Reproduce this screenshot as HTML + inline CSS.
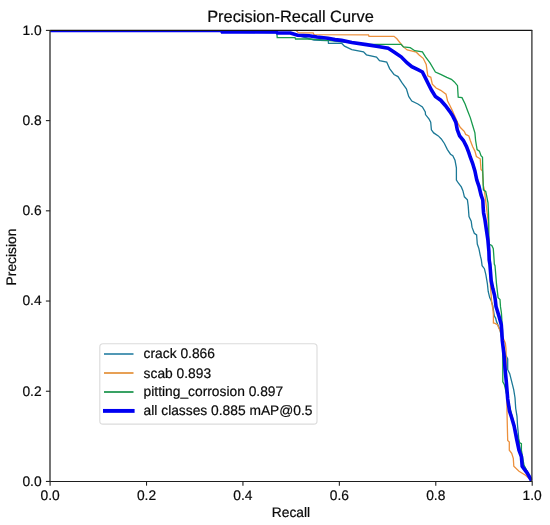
<!DOCTYPE html>
<html><head><meta charset="utf-8"><style>
html,body{margin:0;padding:0;background:#fff;width:550px;height:525px;overflow:hidden}
svg{display:block;position:absolute;left:0;top:0}
text{text-rendering:geometricPrecision;font-family:"Liberation Sans",Arial,sans-serif;fill:#0a0a0a;stroke:#0a0a0a;stroke-width:0.2px}
.tl{font-size:13.8px}
.ax{stroke:#222;stroke-width:1.1}
.c{fill:none;stroke-linejoin:miter;stroke-linecap:butt}
</style></head><body>
<svg width="550" height="525" viewBox="0 0 550 525">
<rect x="0" y="0" width="550" height="525" fill="#fff"/>
<text x="290.5" y="22.2" font-size="16.4" text-anchor="middle">Precision-Recall Curve</text>
<defs><clipPath id="ax"><rect x="50.1" y="30.4" width="482.1" height="451.05"/></clipPath></defs>
<g clip-path="url(#ax)">
<polyline class="c" points="40.0,30.4 220.0,30.4 222.0,32.0 290.0,33.0 296.0,35.0 305.0,37.5 314.0,40.0 326.0,40.6 328.2,40.6 328.5,43.4 341.6,43.2 344.5,46.1 351.8,49.7 363.5,51.9 366.4,54.8 376.5,57.0 379.5,60.6 386.7,62.1 389.6,68.6 394.0,74.5 398.0,76.6 401.9,82.7 406.4,88.8 408.7,96.4 411.8,101.0 417.9,104.0 422.4,107.0 425.3,112.0 425.5,114.6 429.1,119.1 430.7,122.2 431.4,129.8 433.7,132.9 438.3,135.9 441.3,139.0 444.4,143.5 447.4,149.6 450.5,154.2 452.8,155.7 455.0,160.3 456.4,167.9 456.4,180.0 458.3,183.0 461.3,186.9 462.9,190.7 464.4,196.8 467.4,199.8 468.2,205.9 469.0,216.6 471.2,221.1 472.0,227.2 474.3,233.3 476.6,234.9 477.3,244.0 478.9,248.6 480.4,256.2 481.3,259.6 482.1,265.7 484.4,268.7 485.9,274.8 487.4,283.9 488.2,291.5 489.7,297.6 491.2,300.7 492.7,305.3 494.3,315.9 495.7,318.3 496.3,321.1 500.0,330.0 503.0,345.0 505.7,355.0 507.7,359.0 507.7,369.7 509.7,373.7 511.7,381.7 513.7,389.7 515.0,397.7 515.7,408.3 517.0,416.3 517.5,425.0 518.2,432.4 519.0,442.1 521.0,455.0 523.0,464.7 527.1,471.2 531.5,480.5" stroke="#1b7896" stroke-width="1.3"/>
<polyline class="c" points="40.0,30.4 296.0,30.4 298.6,32.9 313.2,32.9 314.0,34.7 368.5,34.9 369.0,36.3 394.0,36.3 396.9,38.8 399.8,42.5 403.4,46.9 407.2,49.9 416.3,52.2 419.4,55.2 423.2,58.3 426.2,64.4 427.8,75.8 430.8,77.3 432.3,84.2 436.1,88.0 440.7,90.3 446.0,94.1 447.6,101.0 449.9,105.5 452.1,110.1 458.1,123.7 460.4,127.5 464.2,131.3 465.7,134.4 468.8,135.9 470.3,140.5 472.6,146.6 474.9,151.1 476.4,156.5 480.2,158.8 481.0,169.4 482.5,171.0 483.2,185.0 484.2,189.1 485.0,195.2 487.2,213.5 488.0,219.6 489.5,260.0 490.5,287.0 491.7,302.3 492.9,309.1 493.4,314.9 493.4,322.9 495.1,323.4 497.4,324.6 498.6,327.4 502.0,335.0 505.4,343.4 506.0,349.1 506.5,380.0 507.0,412.3 507.7,440.5 509.3,442.1 509.3,450.2 511.7,453.4 513.3,458.3 513.8,466.3 519.0,471.2 525.5,475.2 531.5,480.5" stroke="#ec903c" stroke-width="1.3"/>
<polyline class="c" points="40.0,30.4 221.0,30.4 222.0,32.0 276.8,32.0 277.2,37.6 295.0,37.6 295.5,39.0 307.3,39.0 320.0,39.6 350.0,42.6 368.0,44.3 401.1,44.3 403.4,46.9 410.2,47.6 414.8,50.7 422.4,51.9 425.5,56.8 430.0,62.9 435.4,72.0 440.7,74.3 446.8,77.3 451.4,79.3 454.4,81.9 457.5,85.7 458.2,97.1 462.0,97.6 465.1,104.0 467.5,110.5 470.3,117.6 472.6,125.2 474.9,132.9 475.6,140.5 477.1,149.6 479.4,151.1 481.0,155.7 482.5,157.2 482.8,171.0 483.4,189.9 485.7,191.4 486.5,195.2 488.0,202.9 488.5,213.5 488.8,225.7 488.8,244.0 491.8,245.5 493.3,248.6 494.1,260.0 494.3,264.1 495.0,265.7 496.5,283.9 498.1,297.6 500.0,299.5 500.5,306.9 501.4,312.6 502.5,330.0 502.8,360.5 502.8,381.8 504.4,384.8 508.0,400.0 513.0,420.0 517.0,435.0 519.8,442.9 521.4,443.7 521.4,450.2 524.0,465.0 531.5,480.5" stroke="#179a4c" stroke-width="1.3"/>
<polyline class="c" points="40.0,30.4 221.2,30.4 222.2,32.0 276.5,32.0 277.5,33.0 290.5,33.0 297.5,35.3 309.0,35.8 317.0,37.0 328.0,38.3 335.0,39.6 341.6,40.4 351.8,42.5 366.4,44.6 378.0,46.5 388.2,48.3 394.0,51.9 401.1,56.8 407.2,62.9 411.8,66.7 417.9,69.7 422.4,72.0 425.5,78.1 428.5,84.2 431.6,90.3 435.4,96.4 440.7,100.2 445.3,105.5 449.9,111.6 452.8,116.1 455.8,122.2 457.3,129.8 459.6,135.9 463.4,140.5 466.5,146.6 468.8,152.7 470.3,157.2 472.6,163.3 474.9,171.0 476.8,180.0 478.9,186.1 481.1,195.2 482.8,200.0 483.2,208.0 483.6,213.0 484.9,219.4 486.2,228.6 487.9,240.0 488.9,251.4 489.2,260.0 489.9,264.1 491.2,280.9 492.8,288.5 494.5,295.0 495.3,300.0 496.0,306.4 498.0,313.0 499.4,317.8 501.3,324.7 501.8,332.0 502.3,340.7 503.2,348.0 504.0,355.0 504.3,358.0 505.0,368.3 506.3,381.7 507.7,399.0 509.5,411.0 511.7,417.8 514.1,425.9 516.6,438.8 519.0,450.2 521.4,456.6 522.2,466.3 527.1,472.8 531.5,480.5" stroke="#0000f0" stroke-width="3.6"/>
</g>
<line x1="50.1" y1="30.4" x2="532.2" y2="30.4" stroke="#141414" stroke-width="1.1"/>
<line x1="50.1" y1="481.45" x2="532.2" y2="481.45" stroke="#1e1e1e" stroke-width="1.1"/>
<line x1="50.0" y1="29.9" x2="50.0" y2="481.95" stroke="#2a2a2a" stroke-width="1.3"/>
<line x1="531.9" y1="29.9" x2="531.9" y2="481.95" stroke="#2a2a2a" stroke-width="1.25"/>
<line x1="50.10" y1="481.45" x2="50.10" y2="485.65" class="ax"/>
<text x="50.10" y="500" class="tl" text-anchor="middle">0.0</text>
<line x1="45.9" y1="481.45" x2="50.1" y2="481.45" class="ax"/>
<text x="41.6" y="485.75" class="tl" text-anchor="end">0.0</text>
<line x1="146.52" y1="481.45" x2="146.52" y2="485.65" class="ax"/>
<text x="146.52" y="500" class="tl" text-anchor="middle">0.2</text>
<line x1="45.9" y1="391.24" x2="50.1" y2="391.24" class="ax"/>
<text x="41.6" y="395.54" class="tl" text-anchor="end">0.2</text>
<line x1="242.94" y1="481.45" x2="242.94" y2="485.65" class="ax"/>
<text x="242.94" y="500" class="tl" text-anchor="middle">0.4</text>
<line x1="45.9" y1="301.03" x2="50.1" y2="301.03" class="ax"/>
<text x="41.6" y="305.33" class="tl" text-anchor="end">0.4</text>
<line x1="339.36" y1="481.45" x2="339.36" y2="485.65" class="ax"/>
<text x="339.36" y="500" class="tl" text-anchor="middle">0.6</text>
<line x1="45.9" y1="210.82" x2="50.1" y2="210.82" class="ax"/>
<text x="41.6" y="215.12" class="tl" text-anchor="end">0.6</text>
<line x1="435.78" y1="481.45" x2="435.78" y2="485.65" class="ax"/>
<text x="435.78" y="500" class="tl" text-anchor="middle">0.8</text>
<line x1="45.9" y1="120.61" x2="50.1" y2="120.61" class="ax"/>
<text x="41.6" y="124.91" class="tl" text-anchor="end">0.8</text>
<line x1="532.20" y1="481.45" x2="532.20" y2="485.65" class="ax"/>
<text x="532.20" y="500" class="tl" text-anchor="middle">1.0</text>
<line x1="45.9" y1="30.40" x2="50.1" y2="30.40" class="ax"/>
<text x="41.6" y="34.70" class="tl" text-anchor="end">1.0</text>
<text x="291" y="517" class="tl" text-anchor="middle">Recall</text>
<text transform="translate(16.2,257) rotate(-90)" class="tl" text-anchor="middle">Precision</text>
<rect x="99.8" y="343.7" width="217.2" height="80.4" rx="3.2" ry="3.2" fill="#fff" fill-opacity="0.9" stroke="#dcdcdc" stroke-width="1.15"/>
<line x1="104" y1="354" x2="133.5" y2="354" stroke="#4893b2" stroke-width="1.9"/>
<line x1="104" y1="373" x2="133.5" y2="373" stroke="#e69b4c" stroke-width="1.9"/>
<line x1="104" y1="392" x2="133.5" y2="392" stroke="#2f9d5c" stroke-width="1.9"/>
<line x1="103" y1="410.9" x2="134.6" y2="410.9" stroke="#0000f2" stroke-width="3.9"/>
<text x="143.6" y="358.3" class="tl">crack 0.866</text>
<text x="143.6" y="377.5" class="tl">scab 0.893</text>
<text x="143.6" y="396.4" class="tl">pitting_corrosion 0.897</text>
<text x="143.6" y="415.4" class="tl">all classes 0.885 mAP@0.5</text>
</svg>
</body></html>
